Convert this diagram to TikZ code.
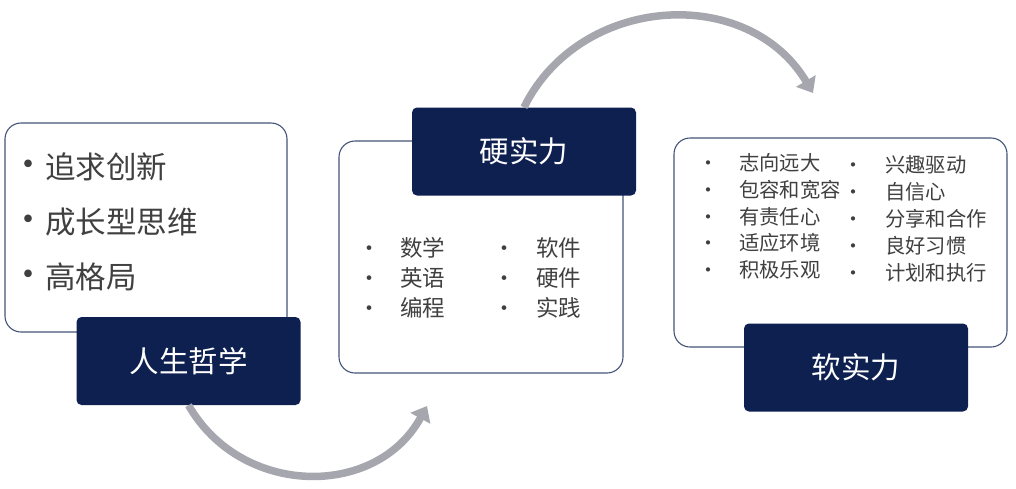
\documentclass[tikz,border=0pt]{standalone}
\usepackage{fontspec}
\setmainfont{Noto Sans CJK SC}
\usepackage{tikz}
\usetikzlibrary{arrows.meta,calc}
\definecolor{navy}{RGB}{14,32,80}
\definecolor{cardline}{RGB}{68,84,120}
\definecolor{flowgray}{RGB}{166,166,174}
\definecolor{inktext}{RGB}{64,64,64}
\newcommand{\fsz}[1]{\fontsize{#1}{#1}\selectfont}

\begin{document}
\begin{tikzpicture}[x=1pt,y=-1pt,
  card/.style={draw=cardline,line width=1.1pt,rounded corners=16pt,fill=white,inner sep=0pt},
  headbox/.style={fill=navy,rounded corners=5pt,text=white,minimum width=224pt,minimum height=88pt,font=\fsz{29.5}},
  listitem/.style={anchor=west,inner sep=0pt,text=inktext},
  bulletdot/.style={anchor=base,inner sep=0pt,text=inktext},
  flow/.style={flowgray,line width=7.5pt,-{Triangle[length=14pt,width=22pt]}}]
\useasboundingbox (0,0) rectangle (1016,488);
\node[card,minimum width=282pt,minimum height=209pt] (philocard) at (146,227.5) {};
\node[card,minimum width=284pt,minimum height=232pt] (hardcard) at (481,257) {};
\node[card,minimum width=333pt,minimum height=209pt] (softcard) at (840.5,242.5) {};
\node[headbox] (philohead) at (188.5,361) {人生哲学};
\node[headbox] (hardhead) at (524,151.5) {硬实力};
\node[headbox] (softhead) at (856,367.5) {软实力};
% flow arrows
\coordinate (philoend) at (427,406); \coordinate (hardend) at (813,93);
\draw[flow] (philohead.south) .. controls (241,497) and (376,499) .. (philoend);
\draw[flow] (hardhead.north) .. controls (580,-6) and (748,-16) .. (hardend);
% lists
\foreach \t [count=\i] in {追求创新,成长型思维,高格局}{
  \node[listitem,font=\fsz{30.5}] (philo\i) at (45,{112+55*\i}) {\t};
  \node[bulletdot,font=\fsz{36}] (philodot\i) at ($(philo\i.base west)+(-17,-1)$) {•};}
\foreach \t [count=\i] in {数学,英语,编程}{
  \node[listitem,font=\fsz{22.5}] (hardl\i) at (400,{218+30*\i}) {\t};
  \node[bulletdot,font=\fsz{22}] (hardldot\i) at ($(hardl\i.base west)+(-31,0)$) {•};}
\foreach \t [count=\i] in {软件,硬件,实践}{
  \node[listitem,font=\fsz{22.5}] (hardr\i) at (536,{218+30*\i}) {\t};
  \node[bulletdot,font=\fsz{22}] (hardrdot\i) at ($(hardr\i.base west)+(-32,0)$) {•};}
\foreach \t [count=\i] in {志向远大,包容和宽容,有责任心,适应环境,积极乐观}{
  \node[listitem,font=\fsz{20.3}] (softl\i) at (739,{136.3+26.7*\i}) {\t};
  \node[bulletdot,font=\fsz{20}] (softldot\i) at ($(softl\i.base west)+(-31,0)$) {•};}
\foreach \t [count=\i] in {兴趣驱动,自信心,分享和合作,良好习惯,计划和执行}{
  \node[listitem,font=\fsz{20.3}] (softr\i) at (885,{138+27*\i}) {\t};
  \node[bulletdot,font=\fsz{20}] (softrdot\i) at ($(softr\i.base west)+(-32,0)$) {•};}
\end{tikzpicture}
\end{document}
